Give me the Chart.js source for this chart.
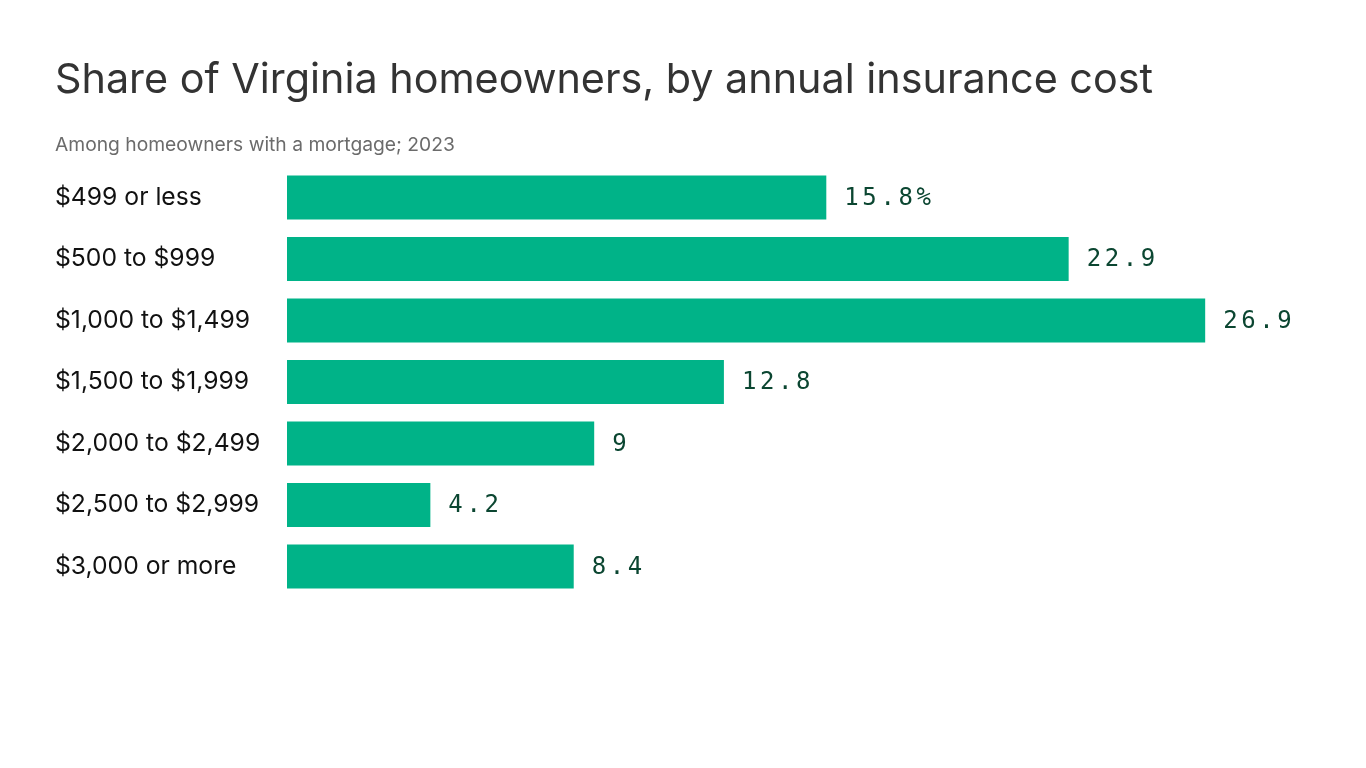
<!DOCTYPE html>
<html>
<head>
<meta charset="utf-8">
<script src="https://cdn.jsdelivr.net/npm/chart.js@4"></script>
<style>
  html, body { margin: 0; padding: 0; background: #ffffff; }
  #wrap { width: 1366px; height: 768px; }
</style>
</head>
<body>
<div id="wrap"><canvas id="chart" width="1366" height="768"></canvas></div>
<script>
// Share of homeowners by annual insurance cost (percent)
const CATEGORIES = ["$499 or less", "$500 to $999", "$1,000 to $1,499", "$1,500 to $1,999",
                    "$2,000 to $2,499", "$2,500 to $2,999", "$3,000 or more"];
const SHARES = [15.8, 22.9, 26.9, 12.8, 9, 4.2, 8.4];
const VALUE_LABELS = ["15.8%", "22.9", "26.9", "12.8", "9", "4.2", "8.4"];

const BAR_COLOR = "#00b388";
const LABEL_COLOR = "#0b4631";
const SANS = "Inter, Roboto, 'Noto Sans', sans-serif";
const MONO = "'DejaVu Sans Mono', 'Liberation Mono', monospace";

// draws the value next to each bar
const valueLabels = {
  id: "valueLabels",
  afterDatasetsDraw(chart) {
    const ctx = chart.ctx;
    const meta = chart.getDatasetMeta(0);
    ctx.save();
    ctx.font = `24px ${MONO}`;
    ctx.letterSpacing = "3.6px";
    ctx.fillStyle = LABEL_COLOR;
    ctx.textAlign = "left";
    ctx.textBaseline = "middle";
    meta.data.forEach((bar, i) => {
      ctx.fillText(VALUE_LABELS[i], bar.x + 18, bar.y + 1);
    });
    ctx.restore();
  }
};

new Chart(document.getElementById("chart"), {
  type: "bar",
  data: {
    labels: CATEGORIES,
    datasets: [{
      data: SHARES,
      backgroundColor: BAR_COLOR,
      borderWidth: 0,
      categoryPercentage: 1,
      barPercentage: 0.715,
    }],
  },
  plugins: [valueLabels],
  options: {
    indexAxis: "y",
    responsive: false,
    animation: false,
    layout: { padding: { left: 55, right: 55, top: 0, bottom: 170.75 } },
    plugins: {
      legend: { display: false },
      tooltip: { enabled: false },
      title: {
        display: true,
        text: "Share of Virginia homeowners, by annual insurance cost",
        align: "start",
        color: "#333333",
        font: { family: SANS, size: 41.3, weight: "normal", lineHeight: 1.2 },
        padding: { top: 56.2, bottom: 0 },
      },
      subtitle: {
        display: true,
        text: "Among homeowners with a mortgage; 2023",
        align: "start",
        color: "#6b6b6b",
        font: { family: SANS, size: 19.25, weight: "normal", lineHeight: 1.2 },
        padding: { top: 27.7, bottom: 10.2 },
      },
    },
    scales: {
      x: {
        display: false,
        min: 0,
        max: 30,
      },
      y: {
        afterFit(axis) { axis.width = 232; },
        border: { display: false },
        grid: { display: false },
        ticks: {
          crossAlign: "far",
          padding: 0,
          color: "#111111",
          font: { family: SANS, size: 24.7 },
        },
      },
    },
  },
});
</script>
</body>
</html>
